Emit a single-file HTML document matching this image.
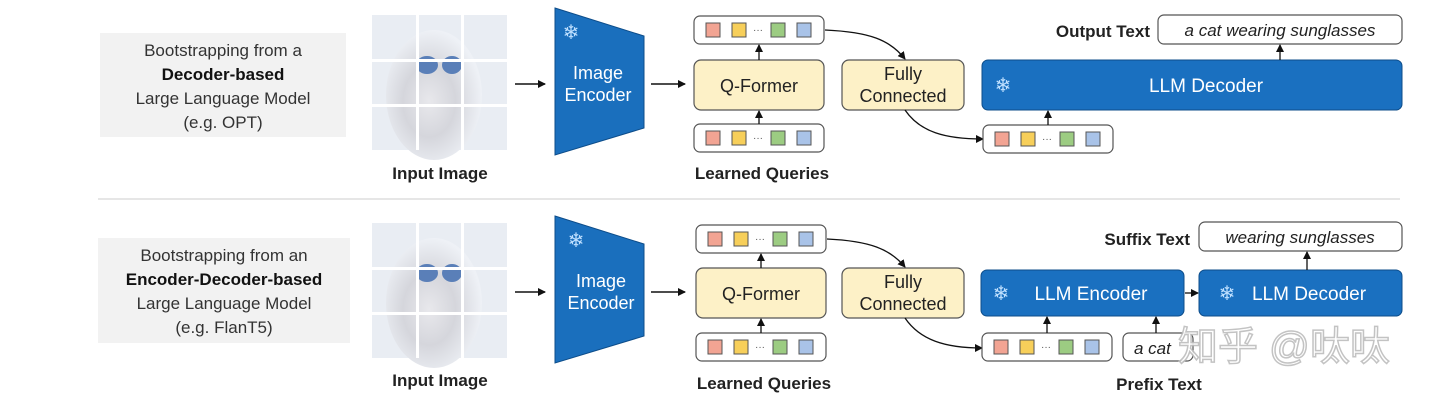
<!DOCTYPE html>
<html><head><meta charset="utf-8"><style>
html,body{margin:0;padding:0;background:#fff;}
svg text{font-family:"Liberation Sans","Noto Sans CJK SC",sans-serif;}
</style></head><body>
<svg width="1440" height="405" viewBox="0 0 1440 405" xmlns="http://www.w3.org/2000/svg">
<defs>
<marker id="ah" markerWidth="8" markerHeight="8" refX="7" refY="4" orient="auto" markerUnits="userSpaceOnUse">
<path d="M0,0 L8,4 L0,8 z" fill="#111"/></marker>
<radialGradient id="cat" cx="0.45" cy="0.55" r="0.55">
<stop offset="0" stop-color="#e8e8ec"/><stop offset="0.5" stop-color="#d5d6dc"/><stop offset="1" stop-color="#eef1f6"/></radialGradient>
<g id="tok">
<rect x="0" y="0" width="130" height="28" rx="6" fill="#fff" stroke="#555" stroke-width="1.2"/>
<rect x="12" y="7" width="14" height="14" fill="#f2a493" stroke="#555" stroke-width="1"/>
<rect x="38" y="7" width="14" height="14" fill="#f7cf5a" stroke="#555" stroke-width="1"/>
<text x="64" y="17" font-size="10" fill="#555" text-anchor="middle">···</text>
<rect x="77" y="7" width="14" height="14" fill="#9ccc82" stroke="#555" stroke-width="1"/>
<rect x="103" y="7" width="14" height="14" fill="#a9c3e8" stroke="#555" stroke-width="1"/>
</g>
<g id="img">
<rect x="0" y="0" width="135" height="135" fill="#e9edf3"/>
<ellipse cx="62" cy="80" rx="48" ry="65" fill="url(#cat)"/>
<ellipse cx="55" cy="50" rx="11" ry="9" fill="#5a7fb8"/>
<ellipse cx="80" cy="50" rx="10" ry="9" fill="#5a7fb8"/>
<rect x="44" y="0" width="3" height="135" fill="#fff"/>
<rect x="89" y="0" width="3" height="135" fill="#fff"/>
<rect x="0" y="44" width="135" height="3" fill="#fff"/>
<rect x="0" y="89" width="135" height="3" fill="#fff"/>
</g>
</defs>

<!-- TOP ROW -->
<rect x="100" y="33" width="246" height="104" fill="#f2f2f2"/>
<text text-anchor="middle" font-size="17" fill="#333"><tspan x="223" y="56">Bootstrapping from a</tspan><tspan x="223" y="80" font-weight="bold" fill="#111">Decoder-based</tspan><tspan x="223" y="104">Large Language Model</tspan><tspan x="223" y="128">(e.g. OPT)</tspan></text>
<use href="#img" x="372" y="15"/>
<text x="440" y="179" font-size="17" font-weight="bold" text-anchor="middle" fill="#222">Input Image</text>
<line x1="515" y1="84" x2="545" y2="84" stroke="#111" stroke-width="1.4" marker-end="url(#ah)"/>
<polygon points="555,8 644,36 644,128 555,155" fill="#1a6fbd" stroke="#0d4d8a" stroke-width="1"/>
<text x="571" y="39" font-size="20" fill="#bfe0ff" text-anchor="middle">❄</text>
<text text-anchor="middle" font-size="18" fill="#fff"><tspan x="598" y="79">Image</tspan><tspan x="598" y="101">Encoder</tspan></text>
<line x1="651" y1="84" x2="685" y2="84" stroke="#111" stroke-width="1.4" marker-end="url(#ah)"/>
<use href="#tok" x="694" y="16"/>
<rect x="694" y="60" width="130" height="50" rx="7" fill="#fdf1c7" stroke="#555" stroke-width="1.2"/>
<text x="759" y="92" font-size="18" text-anchor="middle" fill="#222">Q-Former</text>
<use href="#tok" x="694" y="124"/>
<line x1="759" y1="124" x2="759" y2="111" stroke="#111" stroke-width="1.3" marker-end="url(#ah)"/>
<line x1="759" y1="60" x2="759" y2="45" stroke="#111" stroke-width="1.3" marker-end="url(#ah)"/>
<text x="762" y="179" font-size="17" font-weight="bold" text-anchor="middle" fill="#222">Learned Queries</text>
<rect x="842" y="60" width="122" height="50" rx="7" fill="#fdf1c7" stroke="#555" stroke-width="1.2"/>
<text text-anchor="middle" font-size="18" fill="#222"><tspan x="903" y="80">Fully</tspan><tspan x="903" y="102">Connected</tspan></text>
<path d="M825,30 C870,32 890,40 905,59" fill="none" stroke="#111" stroke-width="1.3" marker-end="url(#ah)"/>
<path d="M905,110 C920,132 945,139 983,139" fill="none" stroke="#111" stroke-width="1.3" marker-end="url(#ah)"/>
<rect x="982" y="60" width="420" height="50" rx="6" fill="#1a70c0" stroke="#0d4d8a" stroke-width="1"/>
<text x="1003" y="92" font-size="20" fill="#bfe0ff" text-anchor="middle">❄</text>
<text x="1206" y="92" font-size="19" text-anchor="middle" fill="#fff">LLM Decoder</text>
<use href="#tok" x="983" y="125"/>
<line x1="1048" y1="125" x2="1048" y2="111" stroke="#111" stroke-width="1.3" marker-end="url(#ah)"/>
<text x="1150" y="37" font-size="17" font-weight="bold" text-anchor="end" fill="#222">Output Text</text>
<rect x="1158" y="15" width="244" height="29" rx="6" fill="#fff" stroke="#555" stroke-width="1.2"/>
<text x="1280" y="36" font-size="17" font-style="italic" text-anchor="middle" fill="#222">a cat wearing sunglasses</text>
<line x1="1280" y1="60" x2="1280" y2="45" stroke="#111" stroke-width="1.3" marker-end="url(#ah)"/>

<line x1="98" y1="199" x2="1400" y2="199" stroke="#ccc" stroke-width="1"/>

<!-- BOTTOM ROW -->
<rect x="98" y="238" width="252" height="105" fill="#f2f2f2"/>
<text text-anchor="middle" font-size="17" fill="#333"><tspan x="224" y="261">Bootstrapping from an</tspan><tspan x="224" y="285" font-weight="bold" fill="#111">Encoder-Decoder-based</tspan><tspan x="224" y="309">Large Language Model</tspan><tspan x="224" y="333">(e.g. FlanT5)</tspan></text>
<use href="#img" x="372" y="223"/>
<text x="440" y="386" font-size="17" font-weight="bold" text-anchor="middle" fill="#222">Input Image</text>
<line x1="515" y1="292" x2="545" y2="292" stroke="#111" stroke-width="1.4" marker-end="url(#ah)"/>
<polygon points="555,216 644,244 644,336 555,363" fill="#1a6fbd" stroke="#0d4d8a" stroke-width="1"/>
<text x="576" y="247" font-size="20" fill="#bfe0ff" text-anchor="middle">❄</text>
<text text-anchor="middle" font-size="18" fill="#fff"><tspan x="601" y="287">Image</tspan><tspan x="601" y="309">Encoder</tspan></text>
<line x1="651" y1="292" x2="685" y2="292" stroke="#111" stroke-width="1.4" marker-end="url(#ah)"/>
<use href="#tok" x="696" y="225"/>
<rect x="696" y="268" width="130" height="50" rx="7" fill="#fdf1c7" stroke="#555" stroke-width="1.2"/>
<text x="761" y="300" font-size="18" text-anchor="middle" fill="#222">Q-Former</text>
<use href="#tok" x="696" y="333"/>
<line x1="761" y1="333" x2="761" y2="319" stroke="#111" stroke-width="1.3" marker-end="url(#ah)"/>
<line x1="761" y1="268" x2="761" y2="254" stroke="#111" stroke-width="1.3" marker-end="url(#ah)"/>
<text x="764" y="389" font-size="17" font-weight="bold" text-anchor="middle" fill="#222">Learned Queries</text>
<rect x="842" y="268" width="122" height="50" rx="7" fill="#fdf1c7" stroke="#555" stroke-width="1.2"/>
<text text-anchor="middle" font-size="18" fill="#222"><tspan x="903" y="288">Fully</tspan><tspan x="903" y="310">Connected</tspan></text>
<path d="M827,239 C870,241 890,249 905,267" fill="none" stroke="#111" stroke-width="1.3" marker-end="url(#ah)"/>
<path d="M905,318 C920,340 945,348 982,348" fill="none" stroke="#111" stroke-width="1.3" marker-end="url(#ah)"/>
<rect x="981" y="270" width="203" height="46" rx="6" fill="#1a70c0" stroke="#0d4d8a" stroke-width="1"/>
<text x="1001" y="300" font-size="20" fill="#bfe0ff" text-anchor="middle">❄</text>
<text x="1091" y="300" font-size="19" text-anchor="middle" fill="#fff">LLM Encoder</text>
<line x1="1185" y1="293" x2="1198" y2="293" stroke="#111" stroke-width="1.3" marker-end="url(#ah)"/>
<rect x="1199" y="270" width="203" height="46" rx="6" fill="#1a70c0" stroke="#0d4d8a" stroke-width="1"/>
<text x="1227" y="300" font-size="20" fill="#bfe0ff" text-anchor="middle">❄</text>
<text x="1309" y="300" font-size="19" text-anchor="middle" fill="#fff">LLM Decoder</text>
<use href="#tok" x="982" y="333"/>
<line x1="1047" y1="333" x2="1047" y2="317" stroke="#111" stroke-width="1.3" marker-end="url(#ah)"/>
<rect x="1123" y="333" width="70" height="28" rx="6" fill="#fff" stroke="#555" stroke-width="1.2"/>
<text x="1134" y="354" font-size="17" font-style="italic" fill="#222">a cat</text>
<line x1="1156" y1="333" x2="1156" y2="317" stroke="#111" stroke-width="1.3" marker-end="url(#ah)"/>
<text x="1159" y="390" font-size="17" font-weight="bold" text-anchor="middle" fill="#222">Prefix Text</text>
<text x="1190" y="245" font-size="17" font-weight="bold" text-anchor="end" fill="#222">Suffix Text</text>
<rect x="1199" y="222" width="203" height="29" rx="6" fill="#fff" stroke="#555" stroke-width="1.2"/>
<text x="1300" y="243" font-size="17" font-style="italic" text-anchor="middle" fill="#222">wearing sunglasses</text>
<line x1="1307" y1="270" x2="1307" y2="252" stroke="#111" stroke-width="1.3" marker-end="url(#ah)"/>
<text x="1178" y="360" font-size="40" fill="#fff" stroke="#bdbdbd" stroke-width="1.5" opacity="0.9">知乎 @呔呔</text>
</svg>
</body></html>
